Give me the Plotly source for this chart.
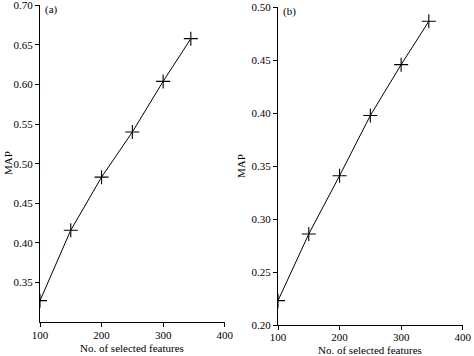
import plotly.graph_objects as go

features = [100, 150, 200, 250, 300, 345]
map_a = [0.327, 0.416, 0.483, 0.540, 0.604, 0.658]
map_b = [0.223, 0.286, 0.341, 0.398, 0.446, 0.487]

ticks_a = [0.35, 0.40, 0.45, 0.50, 0.55, 0.60, 0.65, 0.70]
ticks_b = [0.20, 0.25, 0.30, 0.35, 0.40, 0.45, 0.50]
x_ticks = [100, 200, 300, 400]

W, H = 474, 356
font = dict(family="Liberation Serif, Times New Roman, serif", size=11, color="black")

fig = go.Figure()
marker = dict(symbol="cross-thin", size=10, line=dict(width=1.1, color="black"), color="black")
fig.add_trace(go.Scatter(x=features, y=map_a, mode="lines+markers", line=dict(color="black", width=1),
                         marker=marker, xaxis="x", yaxis="y", showlegend=False))
fig.add_trace(go.Scatter(x=features, y=map_b, mode="lines+markers", line=dict(color="black", width=1),
                         marker=marker, xaxis="x2", yaxis="y2", showlegend=False))

axcommon = dict(showline=True, linecolor="black", linewidth=1, ticks="outside", ticklen=4,
                tickcolor="black", showgrid=False, zeroline=False, tickfont=font, automargin=False,
                ticklabeloverflow="allow")

fig.update_layout(
    width=W, height=H, margin=dict(l=0, r=0, t=0, b=0),
    paper_bgcolor="white", plot_bgcolor="white", font=font,
    xaxis=dict(domain=[40/W, 225/W], range=[100, 400.5], tickvals=x_ticks, anchor="y",
               ticklabelstandoff=-1, **axcommon),
    yaxis=dict(domain=[(H-322)/H, (H-5)/H], range=[0.30, 0.7005], tickvals=ticks_a,
               ticktext=[f"{v:.2f}" for v in ticks_a], anchor="x", **axcommon),
    xaxis2=dict(domain=[278/W, 463/W], range=[100, 400.5], tickvals=x_ticks, anchor="y2",
                ticklabelstandoff=-2, **axcommon),
    yaxis2=dict(domain=[(H-325)/H, (H-7)/H], range=[0.20, 0.5005], tickvals=ticks_b,
                ticktext=[f"{v:.2f}" for v in ticks_b], anchor="x2", **axcommon),
)

ann = []
ann.append(dict(x=132/W, y=(H-347.5)/H, xref="paper", yref="paper", text="No. of selected features",
                showarrow=False, font=font, xanchor="center", yanchor="middle"))
ann.append(dict(x=370/W, y=(H-350)/H, xref="paper", yref="paper", text="No. of selected features",
                showarrow=False, font=font, xanchor="center", yanchor="middle"))
ann.append(dict(x=8/W, y=(H-163)/H, xref="paper", yref="paper", text="MAP", textangle=-90,
                showarrow=False, font=font, xanchor="center", yanchor="middle"))
ann.append(dict(x=241/W, y=(H-166)/H, xref="paper", yref="paper", text="MAP", textangle=-90,
                showarrow=False, font=font, xanchor="center", yanchor="middle"))
ann.append(dict(x=43/W, y=(H-9)/H, xref="paper", yref="paper", text="(a)",
                showarrow=False, font=font, xanchor="left", yanchor="middle"))
ann.append(dict(x=281/W, y=(H-11)/H, xref="paper", yref="paper", text="(b)",
                showarrow=False, font=font, xanchor="left", yanchor="middle"))
fig.update_layout(annotations=ann)

fig.write_html("out.html", config={"displayModeBar": False},
               post_script="document.body.style.margin='0';document.body.style.overflow='hidden';")
